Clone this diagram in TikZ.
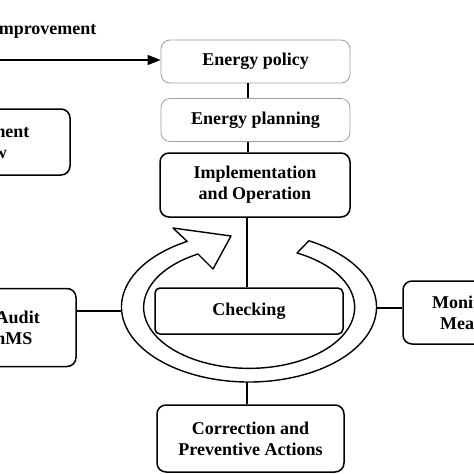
\documentclass[tikz,border=0pt]{standalone}
\usepackage{fontspec}
\setmainfont{Liberation Serif}
\usetikzlibrary{arrows.meta}
\tikzset{
  softbox/.style={draw=gray!75, line width=0.8pt, rounded corners=9pt, align=center,
    minimum width=189pt, minimum height=43pt, inner sep=0pt},
  hardbox/.style={draw=black, line width=1.5pt, rounded corners=9pt, align=center, inner sep=0pt},
  link/.style={line width=1.4pt},
}
\begin{document}
\begin{tikzpicture}[x=1pt, y=-1pt, font=\bfseries\fontsize{18}{21}\selectfont]
\useasboundingbox (0,0) rectangle (474,474);
\clip (0,0) rectangle (474,474);
\node[softbox] (policy) at (255.5,61.5) {Energy policy};
\node[softbox] (planning) at (255.5,120) {Energy planning};
\node[hardbox, minimum width=190pt, minimum height=64pt] (impl) at (255,185) {Implementation\\and Operation};
\node[hardbox, rounded corners=5pt, minimum width=188pt, minimum height=46pt] (check) at (249,311) {Checking};
\node[hardbox, minimum width=187pt, minimum height=67pt] (correct) at (250.5,438.5) {Correction and\\Preventive Actions};
\node[hardbox, minimum width=180pt, minimum height=63pt] (monitor) at (493,312.5) {Monitoring and\\Measurement};
\node[hardbox, minimum width=184pt, minimum height=78pt] (audit) at (-16,327.5) {Internal Audit\\of the EnMS};
\node[hardbox, minimum width=182pt, minimum height=66pt] (mgmt) at (-21,142) {Management\\Review};
\node[anchor=base east] (improve) at (100,34) {Improvement};
\coordinate (axis) at (248,0);
\coordinate (loopL) at (-40,60);
\coordinate (ringC) at (249,307);
\coordinate (ringW) at (122,311);
\coordinate (ringE) at (377,308);
\coordinate (ringS) at (247,382);
\draw[link, -{Triangle[length=13pt, width=10pt]}] (loopL) -- (policy.west |- loopL);
\draw[link] (policy.south -| axis) -- (planning.north -| axis);
\draw[link] (planning.south -| axis) -- (impl.north -| axis);
\draw[link] (impl.south -| ringS) -- (check.north -| ringS);
\draw[link] (audit.east |- ringW) -- (ringW);
\draw[link] (ringE) -- (ringE -| monitor.west);
\draw[link] (ringS) -- (ringS |- correct.north);
\draw[line width=1.4pt, line join=round] (ringC) ++(-62:127.5 and 75)
  arc[start angle=-62, end angle=241, x radius=127.5, y radius=75]
  -- (173,228) -- (231,236) -- (213,269) -- (198,254)
  arc[start angle=241, end angle=-63, x radius=105.5, y radius=61] -- cycle;
\end{tikzpicture}
\end{document}
